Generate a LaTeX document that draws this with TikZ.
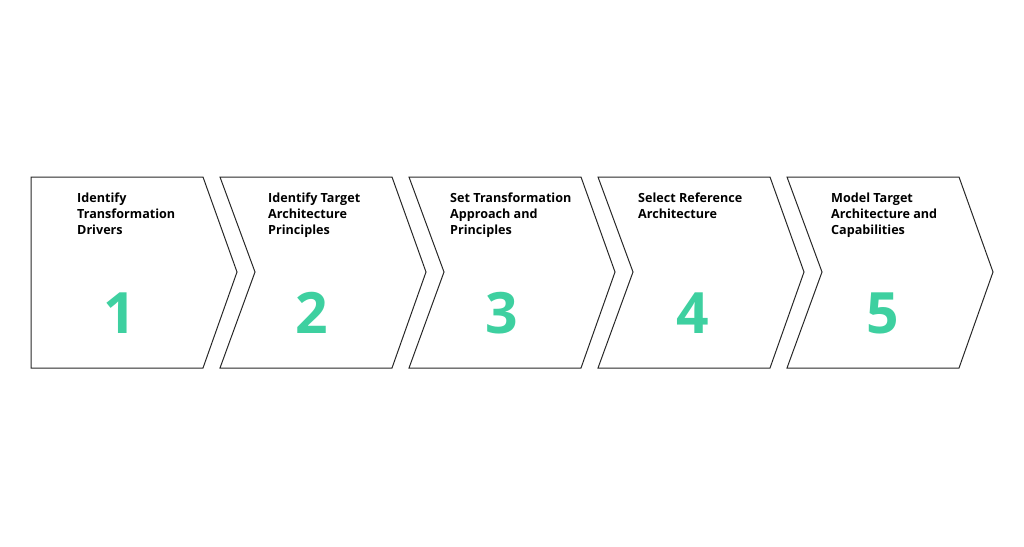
\documentclass[tikz,border=0pt]{standalone}
\usepackage{fontspec}
\setmainfont{Open Sans}
\definecolor{mint}{RGB}{62, 208, 160}
\definecolor{dgray}{RGB}{40, 40, 40}

\begin{document}
\begin{tikzpicture}[x=1pt, y=-1pt]
			\useasboundingbox (0,0) rectangle (1024,546);
			% chevrons
			\draw[dgray, line width=1pt] (31,177) -- (203,177) -- (237,272) -- (203,368) -- (31,368) -- cycle;
			\draw[dgray, line width=1pt] (220,177) -- (392,177) -- (426,272) -- (392,368) -- (220,368) -- (255,272) -- cycle;
			\draw[dgray, line width=1pt] (409,177) -- (581,177) -- (615,272) -- (581,368) -- (409,368) -- (444,272) -- cycle;
			\draw[dgray, line width=1pt] (598,177) -- (770,177) -- (804,272) -- (770,368) -- (598,368) -- (633,272) -- cycle;
			\draw[dgray, line width=1pt] (787,177) -- (959,177) -- (993,272) -- (959,368) -- (787,368) -- (822,272) -- cycle;
			% titles
			\node (t1) at (77,193) [anchor=north west, inner sep=0, align=left, font=\fontsize{12.6}{16}\selectfont\bfseries] {Identify\\Transformation\\Drivers};
			\node (t2) at (268,193) [anchor=north west, inner sep=0, align=left, font=\fontsize{12.6}{16}\selectfont\bfseries] {Identify Target\\Architecture\\Principles};
			\node (t3) at (450,193) [anchor=north west, inner sep=0, align=left, font=\fontsize{12.6}{16}\selectfont\bfseries] {Set Transformation\\Approach and\\Principles};
			\node (t4) at (638,193) [anchor=north west, inner sep=0, align=left, font=\fontsize{12.6}{16}\selectfont\bfseries] {Select Reference\\Architecture};
			\node (t5) at (831,193) [anchor=north west, inner sep=0, align=left, font=\fontsize{12.6}{16}\selectfont\bfseries] {Model Target\\Architecture and\\Capabilities};
			% numbers
			\node (n1) at (120,333) [anchor=base, inner sep=0, text=mint, font=\fontsize{57}{60}\selectfont\bfseries] {1};
			\node (n2) at (312,333) [anchor=base, inner sep=0, text=mint, font=\fontsize{57}{60}\selectfont\bfseries] {2};
			\node (n3) at (502,333) [anchor=base, inner sep=0, text=mint, font=\fontsize{57}{60}\selectfont\bfseries] {3};
			\node (n4) at (693,333) [anchor=base, inner sep=0, text=mint, font=\fontsize{57}{60}\selectfont\bfseries] {4};
			\node (n5) at (883,333) [anchor=base, inner sep=0, text=mint, font=\fontsize{57}{60}\selectfont\bfseries] {5};
			\end{tikzpicture}
\end{document}
